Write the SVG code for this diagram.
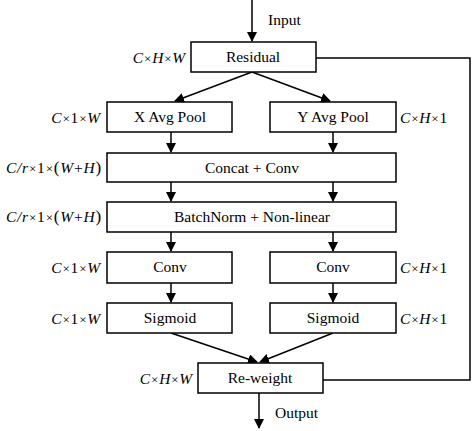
<svg xmlns="http://www.w3.org/2000/svg" width="474" height="431" viewBox="0 0 474 431">
<defs>
<marker id="ah" markerWidth="10" markerHeight="10" refX="9" refY="5" orient="auto" markerUnits="userSpaceOnUse">
<path d="M0,0 L10,5 L0,10 Z" fill="#000"/>
</marker>
<style>
.box{fill:#fff;stroke:#000;stroke-width:1.5}
.t{font-family:"Liberation Serif",serif;font-size:15.5px;text-anchor:middle;fill:#000}
.d{font-family:"Liberation Serif",serif;font-size:15.5px;font-style:italic;fill:#000;letter-spacing:0.8px}
.d tspan.x{font-style:normal;font-size:13px}
.dr{text-anchor:end}
.ln{stroke:#000;stroke-width:1.5;fill:none}
</style>
</defs>
<rect width="474" height="431" fill="#fff"/>
<g id="connectors">
<line class="ln" x1="252" y1="0" x2="252" y2="41" marker-end="url(#ah)"/>
<line class="ln" x1="252" y1="72" x2="175" y2="101" marker-end="url(#ah)"/>
<line class="ln" x1="252" y1="72" x2="330" y2="101" marker-end="url(#ah)"/>
<line class="ln" x1="171" y1="132" x2="171" y2="152" marker-end="url(#ah)"/>
<line class="ln" x1="333" y1="132" x2="333" y2="152" marker-end="url(#ah)"/>
<line class="ln" x1="171" y1="182" x2="171" y2="201" marker-end="url(#ah)"/>
<line class="ln" x1="333" y1="182" x2="333" y2="201" marker-end="url(#ah)"/>
<line class="ln" x1="171" y1="232" x2="171" y2="251" marker-end="url(#ah)"/>
<line class="ln" x1="333" y1="232" x2="333" y2="251" marker-end="url(#ah)"/>
<line class="ln" x1="171" y1="283" x2="171" y2="302" marker-end="url(#ah)"/>
<line class="ln" x1="333" y1="283" x2="333" y2="302" marker-end="url(#ah)"/>
<line class="ln" x1="171" y1="333" x2="257" y2="362" marker-end="url(#ah)"/>
<line class="ln" x1="333" y1="333" x2="260" y2="362" marker-end="url(#ah)"/>
<line class="ln" x1="259" y1="393" x2="259" y2="428" marker-end="url(#ah)"/>
<polyline class="ln" points="316,58 470,58 470,380 323,380"/>
</g>
<text class="t" x="268" y="25" style="text-anchor:start">Input</text>
<text class="t" x="275" y="418" style="text-anchor:start">Output</text>
<g id="residual">
<rect class="box" x="191" y="42" width="125" height="30"/>
<text class="t" x="253" y="62">Residual</text>
<text class="d dr" x="186" y="63">C<tspan class="x">×</tspan>H<tspan class="x">×</tspan>W</text>
</g>
<g id="xpool">
<rect class="box" x="107" y="102" width="125" height="30"/>
<text class="t" x="170" y="122">X Avg Pool</text>
<text class="d dr" x="101" y="123">C<tspan class="x">×</tspan><tspan class="x" style="font-size:15.5px">1</tspan><tspan class="x">×</tspan>W</text>
</g>
<g id="ypool">
<rect class="box" x="270" y="102" width="126" height="30"/>
<text class="t" x="333" y="122">Y Avg Pool</text>
<text class="d" x="400" y="123">C<tspan class="x">×</tspan>H<tspan class="x">×</tspan><tspan class="x" style="font-size:15.5px">1</tspan></text>
</g>
<g id="concat">
<rect class="box" x="107" y="153" width="289" height="29"/>
<text class="t" x="252" y="173">Concat + Conv</text>
<text class="d dr" x="102" y="173">C/r<tspan class="x">×</tspan><tspan class="x" style="font-size:15.5px">1</tspan><tspan class="x">×</tspan><tspan class="x" style="font-size:17px">(</tspan>W<tspan class="x" style="font-size:15.5px">+</tspan>H<tspan class="x" style="font-size:17px">)</tspan></text>
</g>
<g id="batchnorm">
<rect class="box" x="107" y="202" width="289" height="30"/>
<text class="t" x="252" y="222">BatchNorm + Non-linear</text>
<text class="d dr" x="102" y="222">C/r<tspan class="x">×</tspan><tspan class="x" style="font-size:15.5px">1</tspan><tspan class="x">×</tspan><tspan class="x" style="font-size:17px">(</tspan>W<tspan class="x" style="font-size:15.5px">+</tspan>H<tspan class="x" style="font-size:17px">)</tspan></text>
</g>
<g id="convx">
<rect class="box" x="107" y="252" width="125" height="31"/>
<text class="t" x="170" y="272">Conv</text>
<text class="d dr" x="101" y="273">C<tspan class="x">×</tspan><tspan class="x" style="font-size:15.5px">1</tspan><tspan class="x">×</tspan>W</text>
</g>
<g id="convy">
<rect class="box" x="270" y="252" width="126" height="31"/>
<text class="t" x="333" y="272">Conv</text>
<text class="d" x="400" y="273">C<tspan class="x">×</tspan>H<tspan class="x">×</tspan><tspan class="x" style="font-size:15.5px">1</tspan></text>
</g>
<g id="sigx">
<rect class="box" x="107" y="303" width="125" height="30"/>
<text class="t" x="170" y="323">Sigmoid</text>
<text class="d dr" x="101" y="324">C<tspan class="x">×</tspan><tspan class="x" style="font-size:15.5px">1</tspan><tspan class="x">×</tspan>W</text>
</g>
<g id="sigy">
<rect class="box" x="270" y="303" width="126" height="30"/>
<text class="t" x="333" y="323">Sigmoid</text>
<text class="d" x="400" y="324">C<tspan class="x">×</tspan>H<tspan class="x">×</tspan><tspan class="x" style="font-size:15.5px">1</tspan></text>
</g>
<g id="reweight">
<rect class="box" x="198" y="363" width="125" height="30"/>
<text class="t" x="260" y="383">Re-weight</text>
<text class="d dr" x="193" y="384">C<tspan class="x">×</tspan>H<tspan class="x">×</tspan>W</text>
</g>
</svg>
